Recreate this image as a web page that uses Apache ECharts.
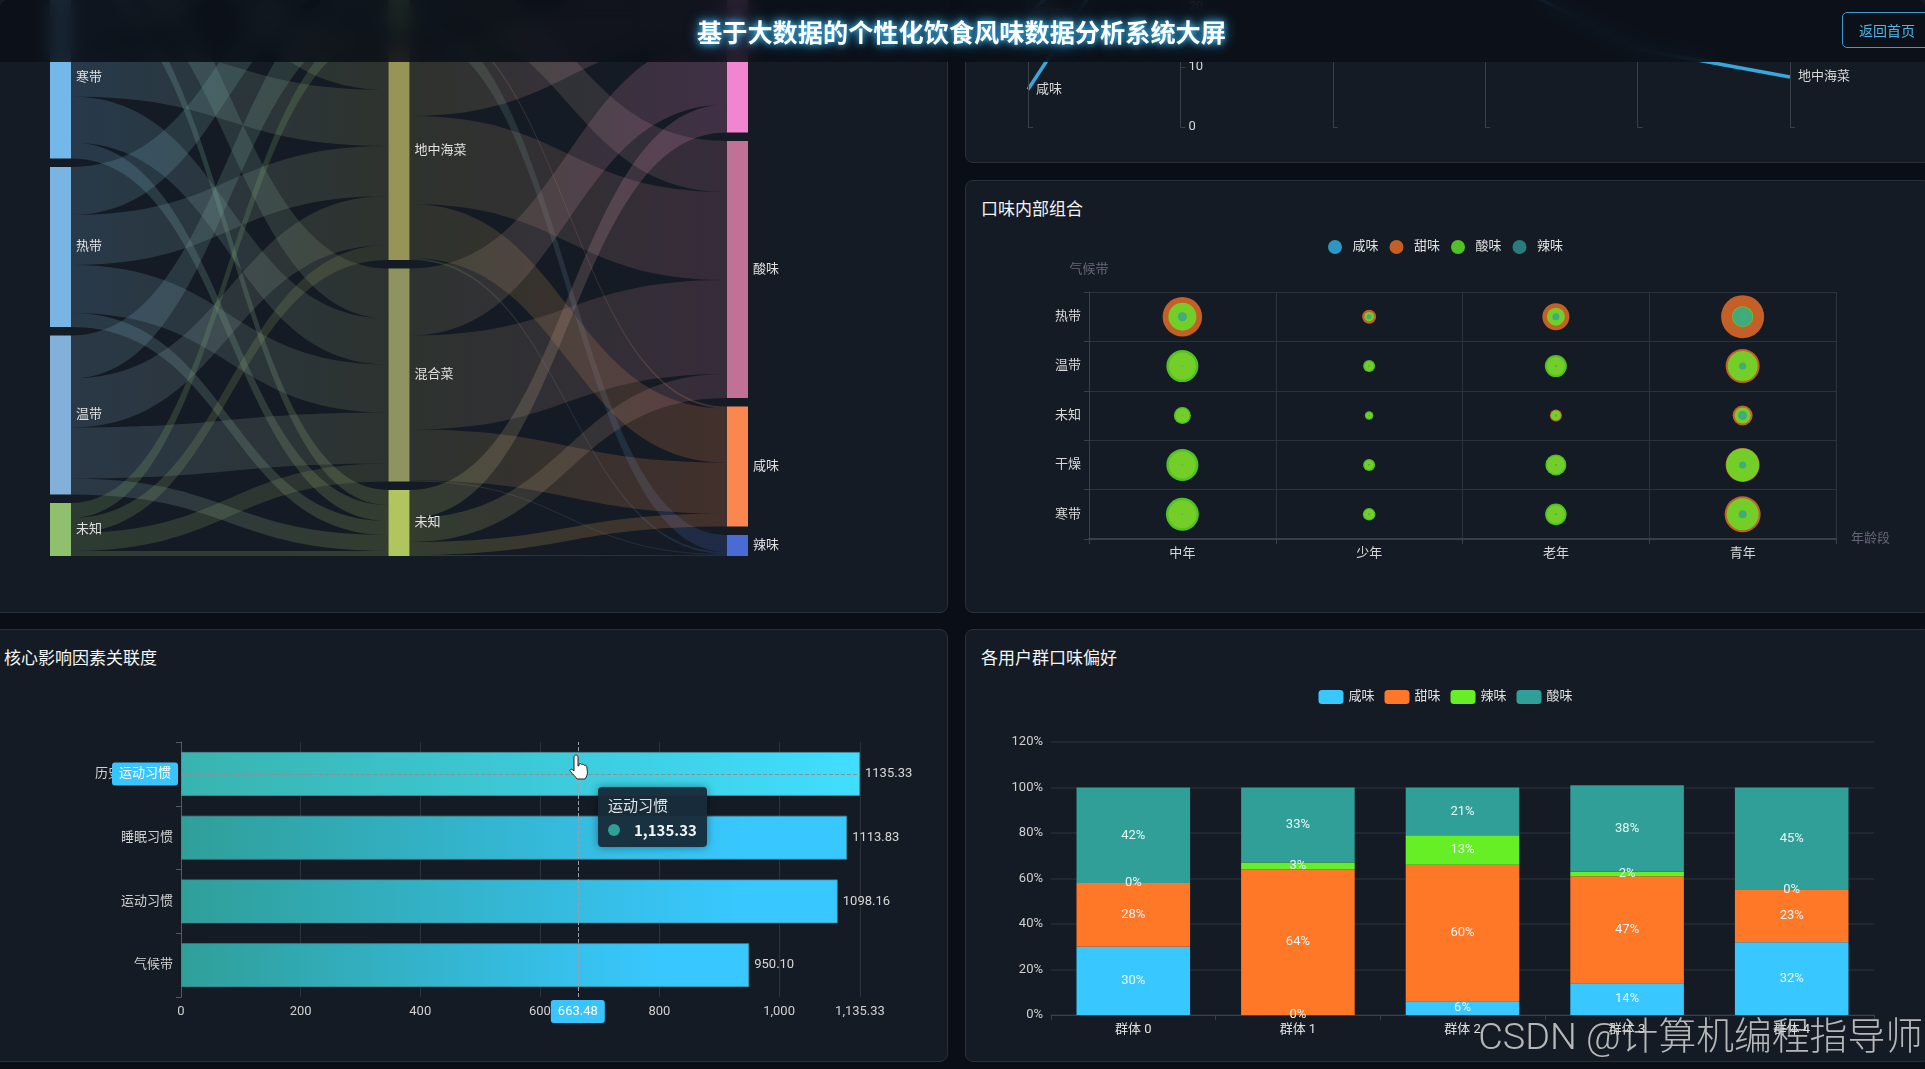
<!DOCTYPE html>
<html>
<head>
<meta charset="utf-8">
<title>基于大数据的个性化饮食风味数据分析系统大屏</title>
<script src="https://cdn.jsdelivr.net/npm/echarts@6/dist/echarts.min.js"></script>
<style>
html,body{margin:0;padding:0;width:1925px;height:1069px;overflow:hidden;background:#0a0e16;font-family:"Noto Sans CJK SC","Noto Sans",sans-serif;}
.panel{position:absolute;box-sizing:border-box;background:#151b24;border:1px solid #2a303a;border-radius:8px;}
.title{position:absolute;color:#f4f5f6;font-size:17px;font-weight:400;line-height:24px;}
.chart{position:absolute;}
#header{position:absolute;left:0;top:0;width:1925px;height:62px;z-index:5;background:rgba(10,15,23,.86);backdrop-filter:blur(9px);border-radius:8px 8px 0 0;}
#header h1{margin:0 0 0 -2px;text-align:center;color:#fff;font-size:25.2px;line-height:63px;font-weight:700;text-shadow:0 0 6px #3fc3ff,0 0 14px rgba(64,190,255,.8);}
#back{position:absolute;left:1842px;top:12px;width:100px;height:36px;box-sizing:border-box;border:1px solid #3f9ad0;border-radius:5px;color:#4db5e8;font-size:14px;line-height:34px;padding-left:16px;}
#mark{position:absolute;right:2px;top:1012px;z-index:6;color:rgba(210,210,210,.85);font-size:37.800px;line-height:48px;font-weight:300;white-space:nowrap;font-family:"Roboto","Noto Sans CJK SC",sans-serif;}
#hand{position:absolute;left:568px;top:754px;z-index:4;}
</style>
</head>
<body>
<div class="panel" style="left:-12px;top:-240px;width:960px;height:853px"></div>
<div class="panel" style="left:965px;top:-240px;width:965px;height:403px"></div>
<div class="panel" style="left:965px;top:180px;width:965px;height:433px"></div>
<div class="panel" style="left:-12px;top:629px;width:960px;height:433px"></div>
<div class="panel" style="left:965px;top:629px;width:965px;height:433px"></div>

<div class="title" style="left:981px;top:196px">口味内部组合</div>
<div class="title" style="left:4px;top:645px">核心影响因素关联度</div>
<div class="title" style="left:981px;top:645px">各用户群口味偏好</div>

<div id="sankey" class="chart" style="left:0;top:-200px;width:948px;height:813px"></div>
<div id="parallel" class="chart" style="left:966px;top:-200px;width:959px;height:363px"></div>
<div id="bubble" class="chart" style="left:966px;top:180px;width:959px;height:433px"></div>
<div id="factor" class="chart" style="left:0;top:629px;width:948px;height:433px"></div>
<div id="stack" class="chart" style="left:966px;top:629px;width:959px;height:433px"></div>

<svg id="hand" width="24" height="30" viewBox="0 0 24 30">
  <path d="M8 1c1.300 0 2 1 2 2.200V12l1-.4V10c1.200-.8 2.400-.4 2.700.6 1-.6 2.300-.2 2.600.8 1-.5 2.400 0 2.500 1.200l.6 5c.3 3-1 5.500-2.400 7.400H9c-1.500-2-4-5-6.600-7.400-1-1-.4-2.400 1-2.300 1 .1 2 1 2.600 1.700V3.200C6 2 6.800 1 8 1z" fill="#fff" stroke="#222" stroke-width="1"/>
</svg>

<div id="header">
  <h1>基于大数据的个性化饮食风味数据分析系统大屏</h1>
  <div id="back">返回首页</div>
</div>
<div id="mark">CSDN @计算机编程指导师</div>

<script>
var font = 'Roboto,"Noto Sans CJK SC",sans-serif';

// 桑基图
var climates = ['寒带', '干燥', '热带', '温带', '未知'];
var diets = ['素食为主', '地中海菜', '混合菜', '未知 '];
var flavors = ['甜味', '酸味', '咸味', '辣味'];
var climateToDiet = [
    [44, 56, 46, 16],
    [52, 48, 50, 15],
    [48, 50, 48, 14],
    [43, 49, 51, 16],
    [15, 15, 18, 5]
];
var dietToFlavor = [
    [132, 51, 2, 17],
    [74, 88, 54, 2],
    [67, 94, 51, 1],
    [28, 24, 13, 1]
];
var climateColors = ['#72b8e8', '#6ec6d8', '#78b5e2', '#82b0d8', '#8fc06e'];
var dietColors = ['#7fb070', '#969457', '#8f935f', '#b0c55f'];
var flavorColors = ['#f285d0', '#c17096', '#fb8750', '#4a6bd4'];

// 平行坐标
var parallelFlavors = ['咸味', '甜味', '酸味', '辣味'];
var parallelDiets = ['地中海菜', '混合菜', '素食为主'];
var parallelRows = [
    ['咸味', 45, 36, 26, 13, '地中海菜'],
    ['甜味', 42, 30, 38, 26, '混合菜'],
    ['酸味', 34, 44, 24, 33, '素食为主']
];

// 口味内部组合
var ages = ['中年', '少年', '老年', '青年'];
var bubbleClimates = ['寒带', '干燥', '未知', '温带', '热带'];
var saltyRows = [[2, 1, 1, 9], [2, 1, 1, 9], [1, 1, 1, 9], [2, 1, 1, 9], [36, 9, 25, 64]];
var sweetRows = [[784, 100, 324, 1296], [729, 81, 324, 1156], [196, 36, 144, 400], [729, 81, 324, 1156], [1560, 196, 729, 1849]];
var sourRows = [[1089, 156, 462, 1024], [1024, 144, 441, 1089], [289, 72, 100, 256], [1024, 144, 484, 900], [784, 90, 324, 441]];
var spicyRows = [[2, 4, 4, 64], [2, 4, 4, 49], [1, 2, 4, 81], [2, 4, 4, 49], [81, 25, 49, 400]];

// 核心影响因素
var factorNames = ['气候带', '运动习惯', '睡眠习惯', '历史饮食偏好'];
var factorValues = [950.10, 1098.16, 1113.83, 1135.33];
var hoverValue = 663.48;
var hoverName = '运动习惯';

// 用户群口味偏好
var groups = ['群体 0', '群体 1', '群体 2', '群体 3', '群体 4'];
var saltyShare = [30, 0, 6, 14, 32];
var sweetShare = [28, 64, 60, 47, 23];
var spicyShare = [0, 3, 13, 2, 0];
var sourShare = [42, 33, 21, 38, 45];

var cyan = '#38c8ff', orange = '#ff7828', green = '#66ef24', teal = '#2f9f98';

// ---- sankey
var sankeyNodes = [];
climates.forEach(function (n, i) { sankeyNodes.push({name: n, itemStyle: {color: climateColors[i]}}); });
diets.forEach(function (n, i) { sankeyNodes.push({name: n, itemStyle: {color: dietColors[i]}}); });
flavors.forEach(function (n, i) { sankeyNodes.push({name: n, itemStyle: {color: flavorColors[i]}}); });
var sankeyLinks = [];
climates.forEach(function (c, i) {
    diets.forEach(function (d, j) { sankeyLinks.push({source: c, target: d, value: climateToDiet[i][j]}); });
});
diets.forEach(function (d, i) {
    flavors.forEach(function (f, j) { sankeyLinks.push({source: d, target: f, value: dietToFlavor[i][j]}); });
});
var sankeyChart = echarts.init(document.getElementById('sankey'));
sankeyChart.setOption({
    animation: false,
    textStyle: {fontFamily: font},
    series: [{
        type: 'sankey',
        left: 50, top: 23, width: 698, height: 733,
        nodeWidth: 21,
        nodeGap: 8.5,
        draggable: false,
        data: sankeyNodes,
        links: sankeyLinks,
        label: {color: '#e0e0e0', fontSize: 13, fontFamily: font, formatter: function (p) { return p.name.trim(); }},
        lineStyle: {color: 'gradient', opacity: 0.2, curveness: 0.5},
        itemStyle: {borderWidth: 0}
    }]
});

// ---- parallel
function parallelAxis(dim, extra, showLabel) {
    var axis = {
        dim: dim,
        axisLine: {lineStyle: {color: '#3a3f48'}},
        axisTick: {inside: true, length: 5, lineStyle: {color: '#3a3f48'}},
        axisLabel: {inside: true, color: '#d8d8d8', fontSize: 13, fontFamily: font},
        splitLine: {show: false}
    };
    // 中间几根轴不显示刻度文字
    if (!showLabel) axis.axisLabel.formatter = function () { return ''; };
    for (var k in extra) axis[k] = extra[k];
    return axis;
}
var parallelChart = echarts.init(document.getElementById('parallel'));
parallelChart.setOption({
    animation: false,
    textStyle: {fontFamily: font},
    parallel: {left: 62, right: 135, top: 27, bottom: 36},
    parallelAxis: [
        parallelAxis(0, {type: 'category', data: parallelFlavors}, true),
        parallelAxis(1, {min: 0, max: 50, interval: 10}, true),
        parallelAxis(2, {min: 0, max: 50, interval: 50}, false),
        parallelAxis(3, {min: 0, max: 50, interval: 50}, false),
        parallelAxis(4, {min: 0, max: 50, interval: 50}, false),
        parallelAxis(5, {type: 'category', data: parallelDiets}, true)
    ],
    series: [{
        type: 'parallel',
        data: parallelRows,
        lineStyle: {color: '#37a8de', width: 3.500, opacity: 1},
        smooth: false
    }]
});

// ---- bubble
function bubbleData(rows) {
    var out = [];
    rows.forEach(function (row, y) {
        row.forEach(function (v, x) { out.push([x, y, v]); });
    });
    return out;
}
function bubbleSeries(name, rows, color, alpha) {
    return {
        name: name, type: 'scatter', data: bubbleData(rows),
        symbolSize: function (d) { return Math.sqrt(d[2]); },
        itemStyle: {color: color, opacity: alpha}
    };
}
var bubbleChart = echarts.init(document.getElementById('bubble'));
bubbleChart.setOption({
    animation: false,
    textStyle: {fontFamily: font},
    legend: {
        top: 55, left: 357, itemWidth: 25, itemHeight: 14, itemGap: 11, icon: 'circle',
        data: ['咸味', '甜味', '酸味', '辣味'],
        textStyle: {color: '#e0e0e0', fontSize: 13, fontFamily: font}
    },
    grid: {left: 123, right: 89, top: 112, bottom: 74},
    xAxis: {
        type: 'category', data: ages, name: '年龄段', nameGap: 15,
        nameTextStyle: {color: '#667', fontSize: 13, verticalAlign: 'middle'},
        axisLine: {lineStyle: {color: '#3a3f48', width: 2}},
        axisTick: {show: true, lineStyle: {color: '#3a3f48'}},
        axisLabel: {color: '#d8d8d8', fontSize: 13, margin: 8, fontFamily: font},
        splitLine: {show: true, lineStyle: {color: '#2c313a'}}
    },
    yAxis: {
        type: 'category', data: bubbleClimates, name: '气候带', nameGap: 16,
        nameTextStyle: {color: '#667', fontSize: 13},
        axisLine: {lineStyle: {color: '#3a3f48'}},
        axisTick: {show: true, lineStyle: {color: '#3a3f48'}},
        axisLabel: {color: '#d8d8d8', fontSize: 13, margin: 8, fontFamily: font},
        splitLine: {show: true, lineStyle: {color: '#2c313a'}}
    },
    series: [
        bubbleSeries('咸味', saltyRows, cyan, 0.72),
        bubbleSeries('甜味', sweetRows, orange, 0.75),
        bubbleSeries('酸味', sourRows, '#5feb28', 0.8),
        bubbleSeries('辣味', spicyRows, teal, 0.75)
    ]
});

// ---- factor bars
var factorChart = echarts.init(document.getElementById('factor'));
factorChart.setOption({
    animation: false,
    textStyle: {fontFamily: font},
    tooltip: {
        trigger: 'axis',
        transitionDuration: 0,
        alwaysShowContent: true,
        backgroundColor: 'rgba(24,44,58,.96)',
        borderWidth: 0,
        padding: 0,
        extraCssText: 'border-radius:4px;box-shadow:0 0 8px rgba(0,0,0,.4);',
        axisPointer: {
            type: 'cross',
            lineStyle: {color: '#8a9099', type: 'dashed'},
            crossStyle: {color: '#9aa0a8', type: 'dashed'},
            label: {backgroundColor: '#38c5ff', color: '#fff', fontSize: 13, borderRadius: 3, fontFamily: font}
        },
        position: function () { return [598, 158]; },
        formatter: function (params) {
            var v = params[0].value;
            return '<div style="width:109px;height:60px;box-sizing:border-box;padding:5px 10px;font-size:15px;line-height:25px;color:#dfe4e8;font-family:\'Noto Sans CJK SC\'">' +
                hoverName + '<br><span style="display:inline-block;width:12px;height:12px;border-radius:6px;background:' + teal + ';margin-right:14px"></span>' +
                '<b style="color:#f2f5f7">' + v.toLocaleString('en-US') + '</b></div>';
        }
    },
    grid: {left: 181, right: 88, top: 113, bottom: 65},
    xAxis: {
        type: 'value', min: 0, max: 'dataMax', interval: 200,
        axisLine: {show: false},
        axisLabel: {color: '#d0d0d0', fontSize: 13, margin: 8, fontFamily: font},
        splitLine: {lineStyle: {color: '#2c313a'}}
    },
    yAxis: {
        type: 'category', data: factorNames,
        axisPointer: {label: {formatter: function () { return hoverName; }}},
        axisLine: {lineStyle: {color: '#555a62'}},
        axisTick: {show: true, lineStyle: {color: '#555a62'}},
        axisLabel: {color: '#d0d0d0', fontSize: 13, margin: 8, fontFamily: font}
    },
    series: [{
        type: 'bar',
        data: factorValues,
        barWidth: 44,
        itemStyle: {
            borderWidth: 1,
            borderColor: 'rgba(70,140,150,.75)',
            color: new echarts.graphic.LinearGradient(0, 0, 1, 0, [
                {offset: 0, color: teal}, {offset: 0.85, color: cyan}, {offset: 1, color: cyan}
            ])
        },
        emphasis: {
            itemStyle: {
                color: new echarts.graphic.LinearGradient(0, 0, 1, 0, [
                    {offset: 0, color: '#38b4ae'}, {offset: 1, color: '#40deff'}
                ])
            }
        },
        label: {
            show: true, position: 'right', color: '#d8d8d8', fontSize: 13, fontFamily: font,
            formatter: function (p) { return p.value.toFixed(2); }
        }
    }]
});
var hoverIndex = factorValues.length - 1;
factorChart.dispatchAction({
    type: 'showTip',
    x: factorChart.convertToPixel({xAxisIndex: 0}, hoverValue),
    y: factorChart.convertToPixel({yAxisIndex: 0}, hoverIndex)
});
factorChart.dispatchAction({type: 'highlight', seriesIndex: 0, dataIndex: hoverIndex});

// ---- stacked bars
function stackSeries(name, values, color) {
    return {
        name: name, type: 'bar', stack: 'taste', data: values, barWidth: '69%',
        itemStyle: {color: color},
        label: {show: true, position: 'inside', color: '#e8f6f6', fontSize: 13, fontFamily: font, formatter: '{c}%'}
    };
}
var stackChart = echarts.init(document.getElementById('stack'));
stackChart.setOption({
    animation: false,
    textStyle: {fontFamily: font},
    legend: {
        top: 56, left: 'center', itemWidth: 25, itemHeight: 14, itemGap: 10,
        data: ['咸味', '甜味', '辣味', '酸味'],
        textStyle: {color: '#e0e0e0', fontSize: 13, fontFamily: font}
    },
    grid: {left: 85, right: 51, top: 113, bottom: 47},
    xAxis: {
        type: 'category', data: groups,
        axisLine: {lineStyle: {color: '#3a3f48'}},
        axisTick: {show: true, lineStyle: {color: '#3a3f48'}},
        axisLabel: {color: '#e0e0e0', fontSize: 13, margin: 8, fontFamily: font}
    },
    yAxis: {
        type: 'value', min: 0, max: 120, interval: 20,
        axisLabel: {color: '#d0d0d0', fontSize: 13, fontFamily: font, formatter: '{value}%'},
        splitLine: {lineStyle: {color: '#262c35', width: 1.500}}
    },
    series: [
        stackSeries('咸味', saltyShare, cyan),
        stackSeries('甜味', sweetShare, orange),
        stackSeries('辣味', spicyShare, green),
        stackSeries('酸味', sourShare, teal)
    ]
});
</script>
</body>
</html>
